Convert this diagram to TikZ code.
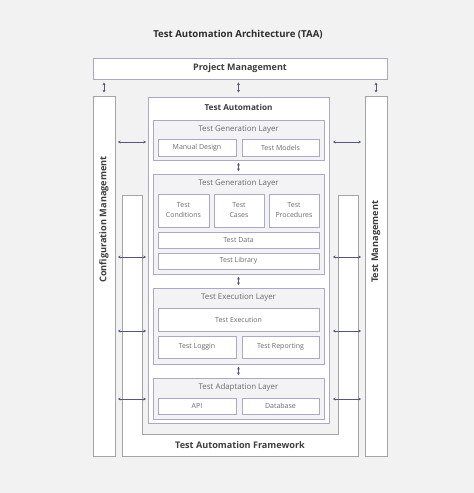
\documentclass[tikz,border=0pt]{standalone}
\usepackage{fontspec}
\setmainfont{Open Sans}
\usetikzlibrary{arrows.meta,calc}
\definecolor{bg}{HTML}{F2F2F3}
\definecolor{bordc}{HTML}{ABA9C3}
\definecolor{frmc}{HTML}{A3A3A8}
\definecolor{arrc}{HTML}{56567A}
\definecolor{laybg}{HTML}{F3F3F6}
\definecolor{titc}{HTML}{2E2E2E}
\definecolor{boldc}{HTML}{3E3E3E}
\definecolor{regc}{HTML}{6B6B6B}
\newcommand\bx[7]{%
  \node[#2, minimum width=#5bp-#3bp, minimum height=#6bp-#4bp] (#1) at ({(#3+#5)/2},{(#4+#6)/2}) {#7};}
\tikzset{
  base/.style={draw=bordc, line width=0.8bp, inner sep=0pt, outer sep=0pt},
  colbox/.style={base, draw=frmc, fill=white},
  pmbox/.style={base, fill=white, text=boldc, font=\fontsize{9bp}{11bp}\selectfont\bfseries},
  tabox/.style={base, fill=white},
  laybox/.style={base, fill=laybg},
  itembox/.style={base, fill=white, text=regc, align=center, font=\fontsize{7bp}{10bp}\selectfont},
  laytitle/.style={anchor=center, yshift=-9.5bp, inner sep=0pt, text=regc, font=\fontsize{7.9bp}{10bp}\selectfont},
  tatitle/.style={anchor=center, yshift=-10bp, inner sep=0pt, text=boldc, font=\fontsize{8.2bp}{10bp}\selectfont\bfseries},
  rotlab/.style={rotate=90, anchor=west, inner sep=0pt, text=boldc, font=\fontsize{9.2bp}{11bp}\selectfont\bfseries},
  dbl/.style={arrc, line width=0.65bp, {Stealth[length=2.6bp,width=3bp]}-{Stealth[length=2.6bp,width=3bp]}},
}
\begin{document}
\begin{tikzpicture}[x=1bp,y=-1bp]
\fill[bg] (0,0) rectangle (474,493);
\useasboundingbox (0,0) rectangle (474,493);
\node[inner sep=0pt, text=titc, font=\fontsize{9.6bp}{12bp}\selectfont\bfseries] (title) at (238,34.5) {Test Automation Architecture (TAA)};
\bx{pm}{pmbox}{93}{58}{387}{79}{Project Management}
\bx{lcol}{colbox}{93}{96}{115}{456}{}
\bx{rcol}{colbox}{365}{96}{387}{456}{}
\node[rotlab] (cmlab) at (104,283) {Configuration Management};
\node[rotlab] (tmlab) at (376,283) {Test Management};
% framework
\draw[frmc, fill=white, line width=0.8bp] (122,195) -- (142,195) -- (142,434) -- (338,434) -- (338,195) -- (358,195) -- (358,456) -- (122,456) -- cycle;
\node[inner sep=0pt, text=boldc, font=\fontsize{9.1bp}{11bp}\selectfont\bfseries] (taf) at (240,445) {Test Automation Framework};
% test automation
\bx{ta}{tabox, label={[tatitle]north:Test Automation}}{148}{97}{329}{423}{}
\bx{l1}{laybox, label={[laytitle]north:Test Generation Layer}}{153}{120}{324}{160}{}
\bx{md}{itembox}{158}{139}{236}{156}{Manual Design}
\bx{tmod}{itembox}{242}{139}{319}{156}{Test Models}
\bx{l2}{laybox, label={[laytitle]north:Test Generation Layer}}{153}{174}{324}{274}{}
\bx{tc}{itembox}{158}{194}{209}{227}{Test\\Conditions}
\bx{tcs}{itembox}{214}{194}{264}{227}{Test\\Cases}
\bx{tp}{itembox}{269}{194}{319}{227}{Test\\Procedures}
\bx{td}{itembox}{158}{232}{319}{248}{Test Data}
\bx{tl}{itembox}{158}{253}{319}{269}{Test Library}
\bx{l3}{laybox, label={[laytitle]north:Test Execution Layer}}{153}{288}{324}{364}{}
\bx{te}{itembox}{158}{308}{319}{331}{Test Execution}
\bx{tlog}{itembox}{158}{336}{236}{358}{Test Loggin}
\bx{trep}{itembox}{242}{336}{319}{358}{Test Reporting}
\bx{l4}{laybox, label={[laytitle]north:Test Adaptation Layer}}{153}{378}{324}{419}{}
\bx{api}{itembox}{158}{398}{236}{414}{API}
\bx{db}{itembox}{242}{398}{319}{414}{Database}
% vertical arrows
\draw[dbl, shorten <=3.5bp, shorten >=3.5bp] (pm.south -| lcol.north) -- (lcol.north);
\draw[dbl, shorten <=3.5bp, shorten >=3.5bp] (pm.south -| rcol.north) -- (rcol.north);
\draw[dbl, shorten <=3.5bp, shorten >=4.5bp] (pm.south -| ta.north) -- (ta.north);
\draw[dbl, shorten <=3bp, shorten >=3bp] (l1.south) -- (l2.north);
\draw[dbl, shorten <=3bp, shorten >=3bp] (l2.south) -- (l3.north);
\draw[dbl, shorten <=3bp, shorten >=3bp] (l3.south) -- (l4.north);
% horizontal arrows
\coordinate (h1) at (0,142);
\coordinate (h2) at (0,257);
\coordinate (h3) at (0,331);
\coordinate (h4) at (0,399);
\foreach \h in {h1,h2,h3,h4}{
  \draw[dbl, shorten <=3bp, shorten >=2bp] (lcol.east |- \h) -- (ta.west |- \h);
  \draw[dbl, shorten <=4bp, shorten >=4bp] (rcol.west |- \h) -- (ta.east |- \h);
}
\end{tikzpicture}
\end{document}
